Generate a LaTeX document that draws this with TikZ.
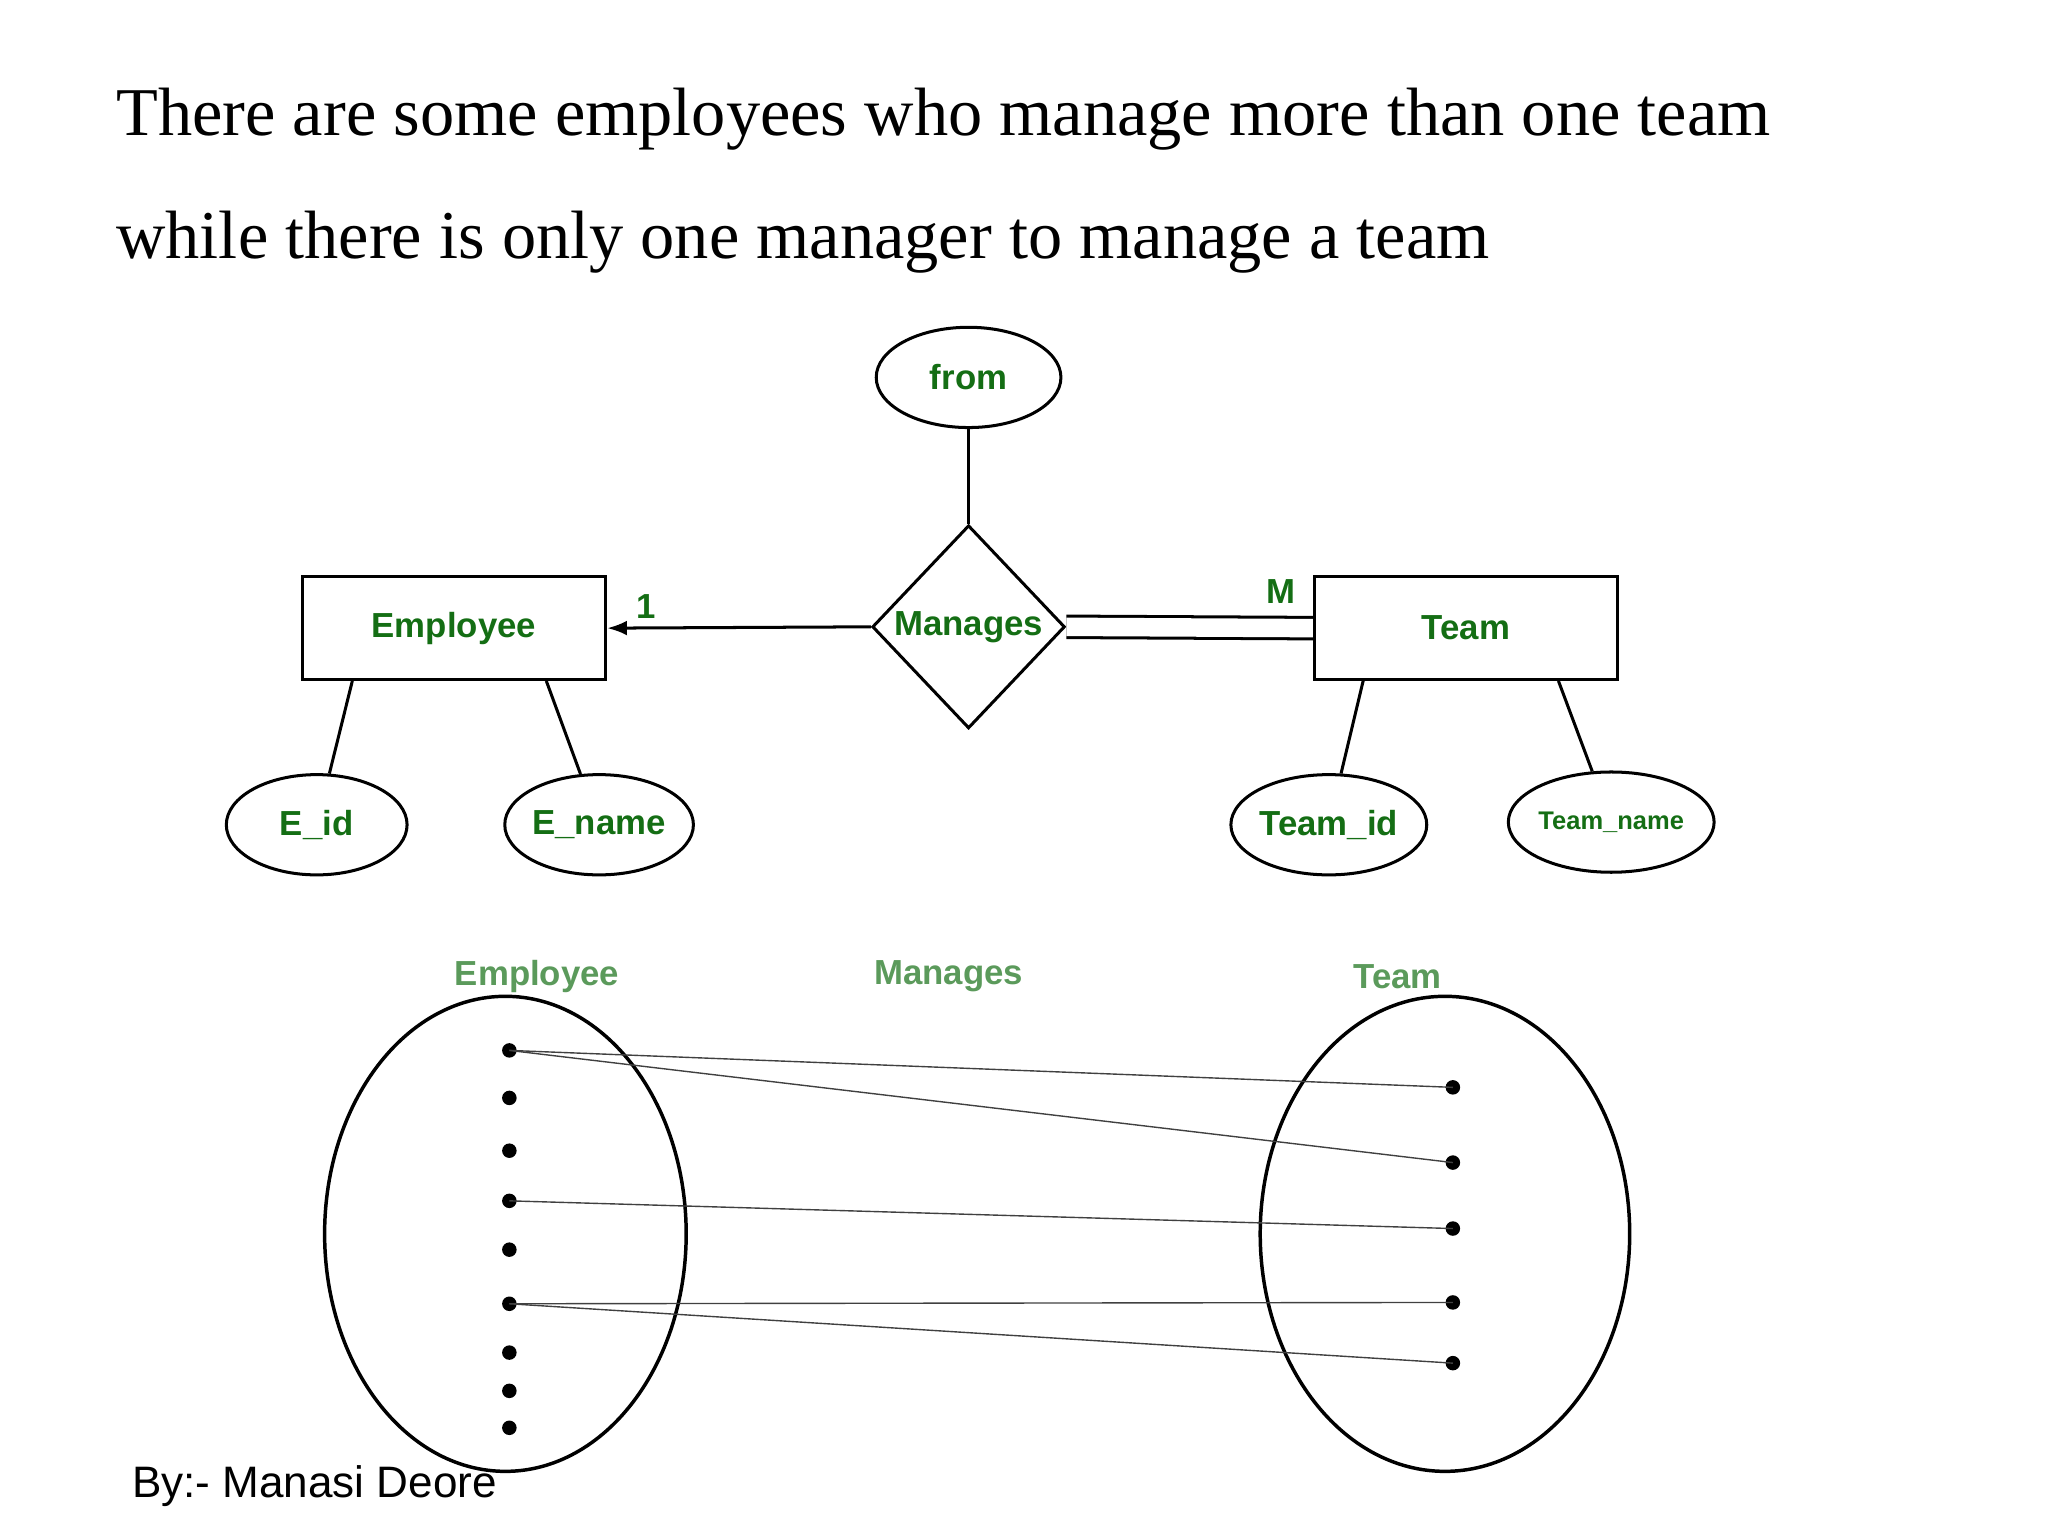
\documentclass[tikz,border=0pt]{standalone}
\usepackage{fontspec}
\setmainfont{Liberation Serif}
\setsansfont{Liberation Sans}
\usetikzlibrary{shapes.geometric,arrows.meta}
\definecolor{erg}{RGB}{20,110,20}
\begin{document}
\begin{tikzpicture}[x=0.02cm,y=-0.02cm,
  lbl/.style={font=\sffamily\bfseries\fontsize{15}{17}\selectfont,text=erg},
  ent/.style={draw,line width=1.3pt,minimum width=4.6cm,minimum height=1.56cm,lbl},
  attr/.style={draw,ellipse,line width=1.3pt,minimum width=2.74cm,minimum height=1.52cm,inner sep=0pt,lbl},
  dotn/.style={circle,fill=black,inner sep=0pt,minimum size=0.22cm},
  ln/.style={line width=1.3pt},
  thin/.style={line width=0.6pt,draw=black!75}]
\useasboundingbox (0,0) rectangle (1552,1164);
\node[anchor=base west,font=\fontsize{29.5}{31}\selectfont] (t1) at (82,103) {There are some employees who manage more than one team};
\node[anchor=base west,font=\fontsize{29.5}{31}\selectfont] (t2) at (82,196) {while there is only one manager to manage a team};
\node[attr,minimum width=2.8cm] (from) at (734,286) {from};
\node[draw,diamond,line width=1.3pt,minimum width=2.92cm,minimum height=3.08cm,inner sep=0pt,lbl] (man) at (734,475) {Manages};
\node[ent] (emp) at (344,476) {Employee};
\node[ent] (team) at (1111,476) {Team};
\draw[ln] (from) -- (man);
\draw[ln,-{Latex[length=0.3cm]}] (man.west) -- (emp.east);
\draw[ln,double,double distance=0.28cm] (man.east) -- (team.west);
\node[lbl] (one) at (490,460) {1};
\node[lbl] (m) at (971,448) {M};
\node[attr] (eid) at (240,625) {E\_id};
\node[attr] (ename) at (454,625) {E\_name};
\node[attr] (tid) at (1007,625) {Team\_id};
\node[attr,font=\sffamily\bfseries\fontsize{11}{12}\selectfont] (tname) at (1221,623) {Team\_name};
\coordinate (a1) at (267,516); \coordinate (a2) at (414,516);
\coordinate (a3) at (1033,516); \coordinate (a4) at (1181,516);
\draw[ln] (a1) -- (eid); \draw[ln] (a2) -- (ename);
\draw[ln] (a3) -- (tid); \draw[ln] (a4) -- (tname);
\node[lbl,text=erg!70] (be) at (407,740) {Employee};
\node[lbl,text=erg!70] (bm) at (719,740) {Manages};
\node[lbl,text=erg!70] (bt) at (1059,740) {Team};
\draw[line width=1.5pt] (383,935) ellipse [x radius=137,y radius=180];
\draw[line width=1.5pt] (1095,935) ellipse [x radius=140,y radius=180];
\foreach \y [count=\i] in {796,832,872,910,947,988,1025,1054,1082}
  \node[dotn] (L\i) at (386,\y) {};
\foreach \y [count=\i] in {824,881,931,987,1033}
  \node[dotn] (R\i) at (1101,\y) {};
\draw[thin] (L1.center) -- (R1.center);
\draw[thin] (L1.center) -- (R2.center);
\draw[thin] (L4.center) -- (R3.center);
\draw[thin] (L6.center) -- (R4.center);
\draw[thin] (L6.center) -- (R5.center);
\node[anchor=base west,font=\sffamily\fontsize{19}{21}\selectfont] (by) at (94,1135) {By:- Manasi Deore};
\end{tikzpicture}
\end{document}
